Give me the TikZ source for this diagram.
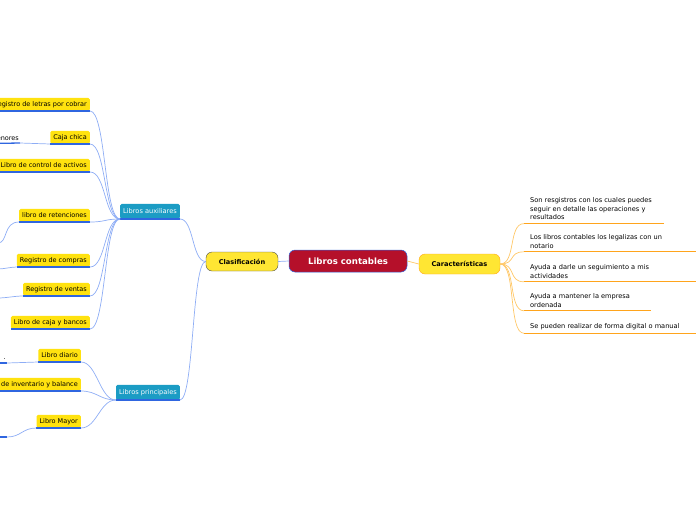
\documentclass[tikz,border=0pt]{standalone}
\usepackage{fontspec}
\setmainfont{DejaVu Sans}
\begin{document}
\begin{tikzpicture}[x=1pt,y=-1pt,
  leaf/.style={fill=ylw,rounded corners=1.5pt,inner xsep=3pt,inner ysep=0pt,minimum height=13pt,font=\fontsize{6.5}{7}\selectfont,anchor=south east,text height=5pt,text depth=1.5pt},
  sub/.style={fill=teal1,text=white,rounded corners=1.5pt,inner xsep=3pt,inner ysep=0pt,minimum height=15pt,font=\fontsize{6.6}{7}\selectfont,anchor=south east},
  feat/.style={anchor=north west,align=left,inner sep=0pt,font=\fontsize{6.6}{8.8}\selectfont},
  uline/.style={draw=ublue,line width=1.3pt},
  oline/.style={draw=orng,line width=1.3pt},
  conn/.style={draw=lblue,line width=0.7pt},
  oconn/.style={draw=lorng,line width=0.7pt}]
\definecolor{ylw}{HTML}{FFE20F}
\definecolor{teal1}{HTML}{1B9CC4}
\definecolor{ublue}{HTML}{2F66E0}
\definecolor{lblue}{HTML}{8EADF5}
\definecolor{orng}{HTML}{FFA41C}
\definecolor{lorng}{HTML}{FFC766}
\definecolor{dred}{HTML}{B5102A}
\useasboundingbox (0,0) rectangle (696,520);
\clip (0,0) rectangle (696,520);
% central
\node[fill=dred,text=white,draw=ublue,line width=0.5pt,rounded corners=6pt,minimum width=118pt,minimum height=22pt,font=\fontsize{8.6}{9}\selectfont\bfseries] (root) at (348,261) {Libros contables};
\node[fill=ylw!85!white,draw=black!70,line width=0.4pt,rounded corners=6pt,minimum width=72pt,minimum height=19pt,font=\fontsize{6.6}{7}\selectfont\bfseries] (clas) at (242,261.5) {Clasificación};
\node[fill=ylw!85!white,draw=orng,line width=0.4pt,rounded corners=6pt,minimum width=81pt,minimum height=20pt,font=\fontsize{6.6}{7}\selectfont\bfseries] (car) at (459.5,264) {Características};
\draw[conn] (clas.east) -- (root.west);
\draw[oconn] (root.east) -- (car.west);
% sub nodes
\node[sub] (aux) at (180,219) {Libros auxiliares};
\node[sub] (pri) at (180,400) {Libros principales};
\draw[uline] (aux.south west) -- (aux.south east);
\draw[uline] (pri.south west) -- (pri.south east);
\draw[conn] (clas.west) .. controls +(-14,0) and +(14,0) .. (aux.south east);
\draw[conn] (clas.west) .. controls +(-14,0) and +(14,0) .. (pri.south east);
% leaves of auxiliares
\foreach \n/\y/\t in {l1/111/Registro de letras por cobrar, l2/144/Caja chica, l3/172/Libro de control de activos, l4/222/libro de retenciones, l5/267/Registro de compras, l6/296/Registro de ventas, l7/329/Libro de caja y bancos}{
  \node[leaf] (\n) at (90,\y) {\t};
  \draw[uline] (\n.south west) -- (\n.south east);
  \draw[conn] (aux.south west) .. controls +(-16,0) and +(16,0) .. (\n.south east);
}
\foreach \n/\y/\t in {p1/362/Libro diario, p2/391/Libro de inventario y balance, p3/428/Libro Mayor}{
  \node[leaf] (\n) at (81,\y) {\t};
  \draw[uline] (\n.south west) -- (\n.south east);
  \draw[conn] (pri.south west) .. controls +(-16,0) and +(16,0) .. (\n.south east);
}
% grand-children (cut off at the left edge)
\node[anchor=south east,inner sep=1pt,font=\fontsize{6.5}{7}\selectfont,text height=5pt,text depth=1.5pt] (g2) at (20,143) {Fondos menores};
\draw[uline] (-40,144) -- (g2.south east);
\draw[conn] (l2.south west) -- (g2.south east);
\coordinate (g4) at (-2,243);
\draw[conn] (l4.south west) .. controls +(-16,0) and +(10,0) .. (g4);
\coordinate (g5) at (-2,269);
\draw[conn] (l5.south west) .. controls +(-6,0) and +(6,0) .. (g5);
\coordinate (g6) at (-2,298);
\draw[conn] (l6.south west) .. controls +(-8,0) and +(8,0) .. (g6);
\node[anchor=south east,inner sep=1pt,font=\fontsize{6.5}{7}\selectfont] (g8) at (7,361) {.};
\draw[uline] (-20,363) -- (7,363);
\draw[conn] (p1.south west) -- (7,363);
\coordinate (g9) at (-2,392);
\draw[conn] (p2.south west) -- (g9);
\coordinate (g10) at (7,437);
\draw[uline] (-20,437) -- (g10);
\draw[conn] (p3.south west) .. controls +(-14,0) and +(14,0) .. (g10);
% characteristics
\foreach \n/\y/\e/\t in {
 c1/197/664/{Son resgistros con los cuales puedes\\seguir en detalle las operaciones y\\resultados},
 c2/234/700/{Los libros contables los legalizas con un\\notario},
 c3/264/700/{Ayuda a darle un seguimiento a mis\\actividades},
 c4/293/651/{Ayuda a mantener la empresa\\ordenada},
 c5/323/700/{Se pueden realizar de forma digital o manual}}{
  \node[feat] (\n) at (530,\y) {\t};
  \coordinate (\n e) at (\e,0);
  \draw[oline] (524,0 |- \n.south) ++(0,3.5) coordinate (\n s) -- (\n e |- \n s);
  \draw[oconn] (car.east) .. controls +(16,0) and +(-16,0) .. (\n s);
}
\end{tikzpicture}
\end{document}
